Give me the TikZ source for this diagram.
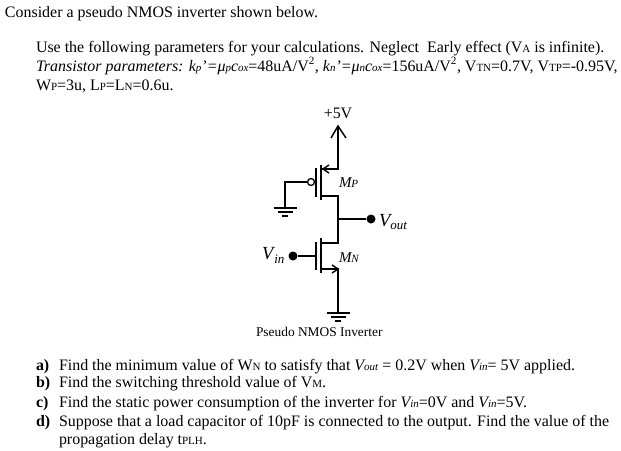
\documentclass[tikz,border=0pt]{standalone}
\usepackage{fontspec}
\setmainfont[Ligatures=ResetAll]{Liberation Serif}
\tikzset{
 txt/.style={anchor=base west,inner sep=0pt,outer sep=0pt,font=\fontsize{15.95}{18}\selectfont},
 wire/.style={line width=1.5pt,black,line join=miter},
 bar/.style={line width=1.8pt,black},
 dot/.style={circle,fill=black,inner sep=0pt,minimum size=9pt},
 bub/.style={circle,draw=black,fill=white,line width=1.3pt,inner sep=0pt,minimum size=7pt},
}
\newcommand{\sm}[1]{{\fontsize{11}{12}\selectfont #1}}
\newcommand{\gnd}[2]{\draw[wire] (#1-11.5,#2) -- (#1+11.5,#2) (#1-7.5,#2+4) -- (#1+7.5,#2+4); \draw[wire] (#1-3,#2+8) -- (#1+3,#2+8);}
\begin{document}
\begin{tikzpicture}[x=1pt,y=-1pt]
\useasboundingbox (0,0) rectangle (621,450);
\fill[white] (0,0) rectangle (621,450);
\node[txt] (t1) at (5,17) {Consider a pseudo NMOS inverter shown below.};
\node[txt] (t2) at (36,52) {Use the following parameters for your calculations. Neglect\ \ Early effect (V\sm{A} is infinite).};
\node[txt] (t3) at (36,71) {\textit{Transistor parameters: k\sm{p}'=μ\sm{p}c\sm{ox}}=48uA/V\textsuperscript{2}, \textit{k\sm{n}'=μ\sm{n}c\sm{ox}}=156uA/V\textsuperscript{2}, V\sm{TN}=0.7V, V\sm{TP}=-0.95V,};
\node[txt] (t4) at (36,90) {W\sm{P}=3u, L\sm{P}=L\sm{N}=0.6u.};
\node[txt,anchor=base] (vdd) at (338,118) {+5V};
\coordinate (top) at (338,126);
\coordinate (ps) at (338,169);
\coordinate (pd) at (338,196);
\coordinate (out) at (338,219);
\coordinate (nd) at (338,243);
\coordinate (ns) at (338,269);
\coordinate (gn) at (338,313);
\draw[wire] (top) -- (ps) -- (322,169);
\draw[wire] (321,196) -- (pd) -- (nd) -- (321,243);
\draw[wire] (321,269) -- (ns) -- (gn);
\draw[wire] (331,138) -- (top) -- (346,138);
\draw[wire] (329,165) -- (323,169) -- (329,173);
\draw[wire] (332,265) -- (338,269) -- (332,273);
\draw[bar] (321,165) -- (321,200);
\draw[bar] (315.7,168) -- (315.7,197);
\draw[bar] (321,238) -- (321,273);
\draw[bar] (315.7,242) -- (315.7,270);
\node[bub] (bp) at (311,182) {};
\draw[wire] (bp) -- (285,182) -- (285,208);
\gnd{285}{208}
\gnd{338}{313}
\node[dot] (vo) at (371,219) {};
\draw[wire] (out) -- (vo);
\node[dot] (vi) at (293,256) {};
\draw[wire] (vi) -- (316,256);
\node[txt,font=\fontsize{18.5}{20}\selectfont\itshape] (lo) at (379,226) {V\raisebox{-3pt}{\fontsize{13}{14}\selectfont out}};
\node[txt,font=\fontsize{18.5}{20}\selectfont\itshape] (li) at (262,259) {V\raisebox{-4pt}{\kern1pt\fontsize{13}{14}\selectfont in}};
\node[txt,font=\fontsize{15}{16}\selectfont\itshape] (mp) at (339,187) {M\sm{P}};
\node[txt,font=\fontsize{15}{16}\selectfont\itshape] (mn) at (339,262) {M\sm{N}};
\node[txt,font=\fontsize{13.4}{14}\selectfont] (cap) at (256,336) {Pseudo NMOS Inverter};
\node[txt] (a1) at (36,370) {\textbf{a)}};
\node[txt] (a) at (59,370) {Find the minimum value of W\sm{N} to satisfy that \textit{V\sm{out}} = 0.2V when \textit{V\sm{in}}= 5V applied.};
\node[txt] (b1) at (36,387) {\textbf{b)}};
\node[txt] (b) at (59,387) {Find the switching threshold value of V\sm{M}.};
\node[txt] (c1) at (36,407) {\textbf{c)}};
\node[txt] (c) at (59,407) {Find the static power consumption of the inverter for \textit{V\sm{in}}=0V and \textit{V\sm{in}}=5V.};
\node[txt] (d1) at (36,426) {\textbf{d)}};
\node[txt] (d) at (59,426) {Suppose that a load capacitor of 10pF is connected to the output. Find the value of the};
\node[txt] (e) at (59,444) {propagation delay t\sm{PLH}.};
\end{tikzpicture}
\end{document}
